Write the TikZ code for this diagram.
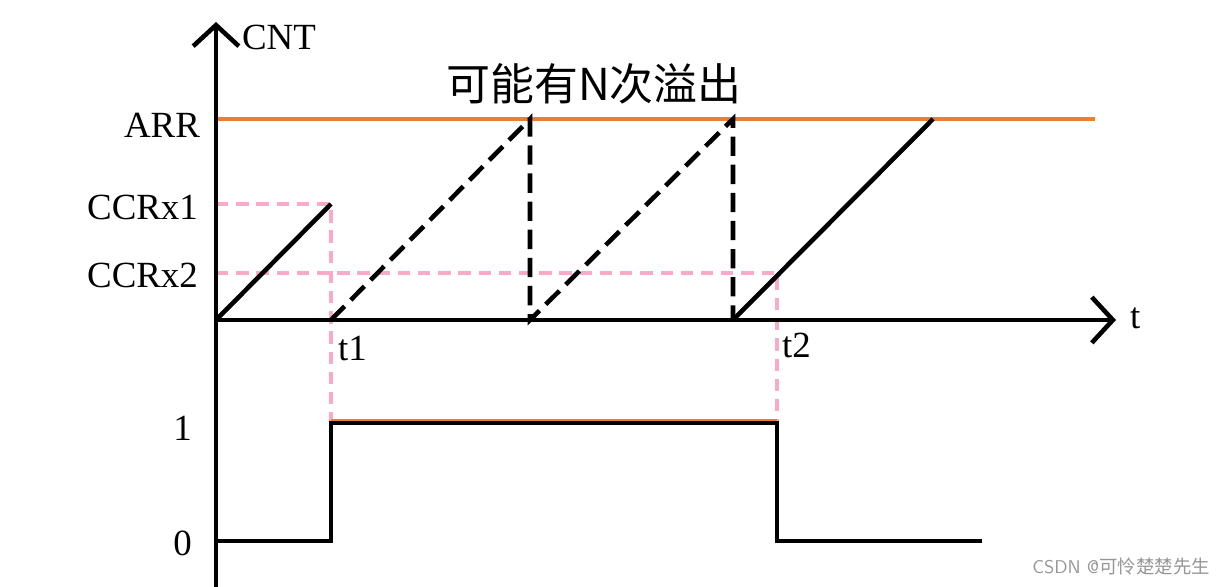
\documentclass[tikz,border=0pt]{standalone}
\usepackage{fontspec}
\setmainfont{Liberation Serif}
\newfontfamily\cjkfont{Noto Sans CJK SC}
\definecolor{arrorange}{RGB}{240,125,45}
\definecolor{guidepink}{RGB}{250,170,200}
\definecolor{markgray}{RGB}{150,150,150}
\usetikzlibrary{arrows.meta, positioning}

\begin{document}
\begin{tikzpicture}[
  x=0.02cm, y=-0.02cm,
  axis/.style={line width=2.6pt, -{Straight Barb[length=12pt, width=26pt, line width=2.6pt]}},
  ramp/.style={line width=2.6pt},
  hidden/.style={line width=2.6pt, dash pattern=on 11pt off 5pt},
  guide/.style={guidepink, line width=2pt, dash pattern=on 7pt off 4.5pt},
  toplevel/.style={arrorange, line width=2.1pt},
  lbl/.style={font=\fontsize{21}{24}\selectfont, inner sep=1pt}
]
  \useasboundingbox (0,0) rectangle (1225,587);

  % points of the counter and the signal
  \coordinate (o) at (216,320);
  \coordinate (top) at (216,22);
  \coordinate (tend) at (1116,320);
  \coordinate (base) at (216,587);
  \coordinate (c1) at (331,204);
  \coordinate (t1) at (331,320);
  \coordinate (p1) at (530,119);
  \coordinate (q1) at (530,320);
  \coordinate (p2) at (733,119);
  \coordinate (q2) at (733,320);
  \coordinate (p3) at (933,119);
  \coordinate (c2) at (777,273);
  \coordinate (a0) at (216,119);
  \coordinate (a1) at (1095,119);
  \coordinate (y1) at (216,204);
  \coordinate (y2) at (216,273);
  \coordinate (s0) at (216,541);
  \coordinate (s1) at (331,541);
  \coordinate (s2) at (331,423);
  \coordinate (s3) at (777,423);
  \coordinate (s4) at (777,541);
  \coordinate (s5) at (982,541);

  % pink guides
  \draw[guide] (y1) -- (c1) -- (331,423);
  \draw[guide] (y2) -- (c2) -- (777,423);

  % ARR level
  \draw[toplevel] (a0) -- (a1);

  % counter
  \draw[ramp] (o) -- (c1);
  \draw[hidden] (t1) -- (p1) -- (q1) -- (p2) -- (q2);
  \draw[ramp] (q2) -- (p3);

  % output signal
  \draw[arrorange, line width=0.9pt] (331,420) -- (777,420);
  \draw[ramp] (s0) -- (s1) -- (s2) -- (s3) -- (s4) -- (s5);

  % axes
  \draw[axis] (base) -- (top);
  \draw[axis] (o) -- (tend);

  \node[lbl, anchor=west] (cnt) at (240,37) {CNT};
  \node[lbl, anchor=west] (tlbl) at (1128,318) {t};
  \node[lbl, anchor=east] (arr) at (202,125) {ARR};
  \node[lbl, anchor=east] (ccr1) at (200,207) {CCRx1};
  \node[lbl, anchor=east] (ccr2) at (200,275) {CCRx2};
  \node[lbl, anchor=west] (t1lbl) at (336,349) {t1};
  \node[lbl, anchor=west] (t2lbl) at (780,345) {t2};
  \node[lbl, anchor=east] (hi) at (194,428) {1};
  \node[lbl, anchor=east] (lo) at (194,543) {0};
  \node[font=\cjkfont\fontsize{25}{28}\selectfont, inner sep=1pt] (note) at (594,84) {可能有N次溢出};
  \node[font=\sffamily\fontsize{10.5}{12}\selectfont, text=markgray, anchor=east, inner sep=1pt] (mark) at (1212,567) {CSDN @{\cjkfont 可怜楚楚先生}};
\end{tikzpicture}
\end{document}
